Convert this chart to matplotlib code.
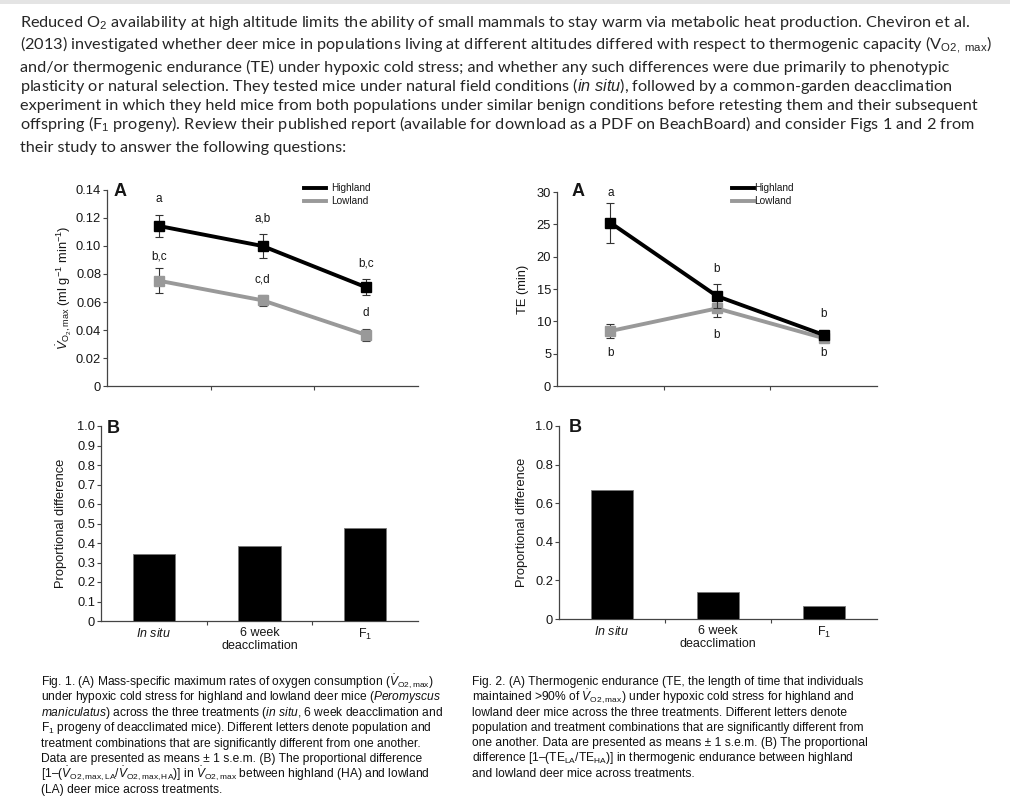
import matplotlib
matplotlib.use("Agg")
import matplotlib.pyplot as plt
from matplotlib.lines import Line2D
from matplotlib.patches import Rectangle
import numpy as np

plt.rcParams['font.family'] = ['Liberation Sans', 'DejaVu Sans']
plt.rcParams['mathtext.fontset'] = 'custom'
plt.rcParams['mathtext.rm'] = 'Liberation Sans'
plt.rcParams['mathtext.it'] = 'Liberation Sans:italic'
plt.rcParams['mathtext.bf'] = 'Liberation Sans:bold'

# ---------------- data ----------------
treatments = ["$\\mathit{In\\ situ}$", "6 week\ndeacclimation", "F$_1$"]

# Fig 1A: VO2max
vo2_high = [0.1143, 0.1000, 0.0705]
vo2_high_sem = [0.0078, 0.0086, 0.0056]
vo2_low = [0.0752, 0.0612, 0.0365]
vo2_low_sem = [0.0090, 0.0037, 0.0040]
vo2_high_letters = ["a", "a,b", "b,c"]
vo2_high_letter_y = [0.1335, 0.1197, 0.0877]
vo2_low_letters = ["b,c", "c,d", "d"]
vo2_low_letter_y = [0.0925, 0.0762, 0.0518]

# Fig 1B: proportional difference VO2max
vo2_prop = [0.344, 0.385, 0.475]

# Fig 2A: TE (min)
te_high = [25.25, 13.9, 7.9]
te_high_sem = [3.1, 1.9, 0.6]
te_low = [8.5, 12.0, 7.4]
te_low_sem = [1.07, 1.35, 0.6]
te_high_letters = ["a", "b", "b"]
te_high_letter_y = [29.9, 18.1, 11.1]
te_low_letters = ["b", "b", "b"]
te_low_letter_y = [5.15, 7.9, 5.15]

# Fig 2B: proportional difference TE
te_prop = [0.666, 0.138, 0.069]

vo2_yticks = [0, 0.02, 0.04, 0.06, 0.08, 0.10, 0.12, 0.14]
vo2_yticklabels = ["0", "0.02", "0.04", "0.06", "0.08", "0.10", "0.12", "0.14"]
prop1_yticks = [0, 0.1, 0.2, 0.3, 0.4, 0.5, 0.6, 0.7, 0.8, 0.9, 1.0]
prop1_yticklabels = ["0", "0.1", "0.2", "0.3", "0.4", "0.5", "0.6", "0.7", "0.8", "0.9", "1.0"]
te_yticks = [0, 5, 10, 15, 20, 25, 30]
te_yticklabels = ["0", "5", "10", "15", "20", "25", "30"]
prop2_yticks = [0, 0.2, 0.4, 0.6, 0.8, 1.0]
prop2_yticklabels = ["0", "0.2", "0.4", "0.6", "0.8", "1.0"]

series_labels = ["Highland", "Lowland"]

# ---------------- figure ----------------
W, H = 1024, 807
fig = plt.figure(figsize=(W / 100, H / 100), dpi=100)
fig.patch.set_facecolor('white')

def rect(x0, x1, ytop, ybot):
    return [x0 / W, 1 - ybot / H, (x1 - x0) / W, (ybot - ytop) / H]

HIGH_C = '#000000'
LOW_C = '#999999'
AX_C = '#444444'
TXT_C = '#161616'
TICK_FS = 9.3

def style_axes(ax, yticks, yticklabels, ylim):
    for s in ['top', 'right']:
        ax.spines[s].set_visible(False)
    for s in ['left', 'bottom']:
        ax.spines[s].set_color(AX_C)
        ax.spines[s].set_linewidth(0.9)
    ax.set_xlim(-0.5, 2.5)
    ax.set_ylim(*ylim)
    ax.set_yticks(yticks)
    ax.set_yticklabels(yticklabels, fontsize=TICK_FS, color=TXT_C)
    ax.set_xticks([0.5, 1.5])
    ax.set_xticklabels([])
    ax.tick_params(axis='both', which='major', direction='out', length=3,
                   width=0.8, color=AX_C, pad=1.2)
    ax.patch.set_alpha(0)

x = np.arange(len(treatments))

def line_panel(ax, high, high_sem, low, low_sem, low_first=False):
    def draw_low():
        ax.errorbar(x, low, yerr=low_sem, color=LOW_C, lw=2.8, marker='s',
                    ms=6.5, mfc=LOW_C, mec=LOW_C, ecolor='#333333',
                    elinewidth=0.8, capsize=3, capthick=0.8, zorder=3)
    def draw_high():
        ax.errorbar(x, high, yerr=high_sem, color=HIGH_C, lw=2.8, marker='s',
                    ms=6.5, mfc=HIGH_C, mec=HIGH_C, ecolor='#333333',
                    elinewidth=0.8, capsize=3, capthick=0.8, zorder=4)
    if low_first:
        draw_low(); draw_high()
    else:
        draw_high(); draw_low()

def add_legend(ax, anchor, textpad):
    handles = [Line2D([], [], color=HIGH_C, lw=2.8),
               Line2D([], [], color=LOW_C, lw=2.8)]
    leg = ax.legend(handles, series_labels, loc='upper left', bbox_to_anchor=anchor,
                    frameon=False, fontsize=7.2, handlelength=2.2,
                    handletextpad=textpad, labelspacing=0.3,
                    borderpad=0, borderaxespad=0)
    for t in leg.get_texts():
        t.set_color(TXT_C)

def letters(ax, labels, ys):
    for xi, lab, yy in zip(x, labels, ys):
        ax.text(xi, yy, lab, ha='center', va='center', fontsize=8.5, color=TXT_C)

def bar_panel(ax, vals):
    ax.bar(x, vals, width=0.4, color='black', edgecolor='#777777', linewidth=0.6, zorder=3)
    ax.set_xticks(x, minor=True)
    ax.set_xticklabels(treatments, minor=True, fontsize=9, color=TXT_C,
                       linespacing=1.2)
    ax.tick_params(axis='x', which='minor', length=0, pad=4)

# Fig 1A
ax1a = fig.add_axes(rect(107, 418, 190, 386))
style_axes(ax1a, vo2_yticks, vo2_yticklabels, (0, 0.14))
line_panel(ax1a, vo2_high, vo2_high_sem, vo2_low, vo2_low_sem)
letters(ax1a, vo2_high_letters, vo2_high_letter_y)
letters(ax1a, vo2_low_letters, vo2_low_letter_y)
add_legend(ax1a, (0.633, 1.035), 0.5)
ax1a.set_ylabel("$\\dot{V}_{\\mathrm{O_2,max}}$ (ml g$^{-1}$ min$^{-1}$)", fontsize=9.3, color=TXT_C)
ax1a.yaxis.set_label_coords(-0.107, 0.5)

# Fig 1B
ax1b = fig.add_axes(rect(101, 418, 426, 621))
style_axes(ax1b, prop1_yticks, prop1_yticklabels, (0, 1.0))
bar_panel(ax1b, vo2_prop)
ax1b.set_ylabel("Proportional difference", fontsize=9.3, color=TXT_C)
ax1b.yaxis.set_label_coords(-0.108, 0.5)

# Fig 2A
ax2a = fig.add_axes(rect(557, 877, 192, 386))
style_axes(ax2a, te_yticks, te_yticklabels, (0, 30))
line_panel(ax2a, te_high, te_high_sem, te_low, te_low_sem, low_first=True)
letters(ax2a, te_high_letters, te_high_letter_y)
letters(ax2a, te_low_letters, te_low_letter_y)
add_legend(ax2a, (0.547, 1.045), 0.05)
ax2a.set_ylabel("TE (min)", fontsize=9.3, color=TXT_C)
ax2a.yaxis.set_label_coords(-0.088, 0.5)

# Fig 2B
ax2b = fig.add_axes(rect(559, 877, 426, 619))
style_axes(ax2b, prop2_yticks, prop2_yticklabels, (0, 1.0))
bar_panel(ax2b, te_prop)
ax2b.set_ylabel("Proportional difference", fontsize=9.3, color=TXT_C)
ax2b.yaxis.set_label_coords(-0.097, 0.5)

# panel letters
for (px, py, lab) in [(120, 192, "A"), (113.5, 428.5, "B"), (578, 192, "A"), (575, 428, "B")]:
    fig.text(px / W, 1 - py / H, lab, ha='center', va='center', fontsize=13,
             fontweight='bold', color=TXT_C)

# grey band at top
fig.patches.append(Rectangle((0, 1 - 4 / H), 1010 / W, 4 / H, transform=fig.transFigure,
                             facecolor='#e4e4e4', edgecolor='none'))

renderer = fig.canvas.get_renderer()

def fit_size(text, family, target_px, base=10.0):
    t = fig.text(0, 0, text, fontsize=base, family=family)
    w = t.get_window_extent(renderer).width
    t.remove()
    return base * target_px / w

# top paragraph
para_lines = [
    "Reduced O$_2$ availability at high altitude limits the ability of small mammals to stay warm via metabolic heat production. Cheviron et al.",
    "(2013) investigated whether deer mice in populations living at different altitudes differed with respect to thermogenic capacity (V$_{\\mathrm{O2,\\ max}}$)",
    "and/or thermogenic endurance (TE) under hypoxic cold stress; and whether any such differences were due primarily to phenotypic",
    "plasticity or natural selection. They tested mice under natural field conditions ($\\mathit{in\\ situ}$), followed by a common-garden deacclimation",
    "experiment in which they held mice from both populations under similar benign conditions before retesting them and their subsequent",
    "offspring (F$_1$ progeny). Review their published report (available for download as a PDF on BeachBoard) and consider Figs 1 and 2 from",
    "their study to answer the following questions:",
]
para_baselines = [27, 50, 72, 91, 110, 129, 152]
para_font = ['Lato', 'DejaVu Sans']
pfs = fit_size(para_lines[4], para_font, 983 - 20)
for line, yb in zip(para_lines, para_baselines):
    fig.text(20 / W, 1 - yb / H, line, fontsize=pfs, family=para_font,
             va='baseline', ha='left', color='#262626')

# captions
cap1 = [
    "Fig. 1. (A) Mass-specific maximum rates of oxygen consumption ($\\dot{V}_{\\mathrm{O2,max}}$)",
    "under hypoxic cold stress for highland and lowland deer mice ($\\mathit{Peromyscus}$",
    "$\\mathit{maniculatus}$) across the three treatments ($\\mathit{in\\ situ}$, 6 week deacclimation and",
    "F$_1$ progeny of deacclimated mice). Different letters denote population and",
    "treatment combinations that are significantly different from one another.",
    "Data are presented as means \u00b1 1 s.e.m. (B) The proportional difference",
    "[1\u2013($\\dot{V}_{\\mathrm{O2,max,LA}}$/$\\dot{V}_{\\mathrm{O2,max,HA}}$)] in $\\dot{V}_{\\mathrm{O2,max}}$ between highland (HA) and lowland",
    "(LA) deer mice across treatments.",
]
cap2 = [
    "Fig. 2. (A) Thermogenic endurance (TE, the length of time that individuals",
    "maintained >90% of $\\dot{V}_{\\mathrm{O2,max}}$) under hypoxic cold stress for highland and",
    "lowland deer mice across the three treatments. Different letters denote",
    "population and treatment combinations that are significantly different from",
    "one another. Data are presented as means \u00b1 1 s.e.m. (B) The proportional",
    "difference [1\u2013(TE$_{\\mathrm{LA}}$/TE$_{\\mathrm{HA}}$)] in thermogenic endurance between highland",
    "and lowland deer mice across treatments.",
]
cap_font = ['Liberation Sans', 'DejaVu Sans']
c1fs = fit_size(cap1[4], cap_font, 420 - 41)
c2fs = fit_size(cap2[3], cap_font, 863 - 472)
for i, line in enumerate(cap1):
    fig.text(41 / W, 1 - (685 + 15.4 * i) / H, line, fontsize=c1fs, family=cap_font,
             va='baseline', ha='left', color='#111111')
for i, line in enumerate(cap2):
    fig.text(472 / W, 1 - (685 + 15.3 * i) / H, line, fontsize=c2fs, family=cap_font,
             va='baseline', ha='left', color='#111111')

fig.savefig("out.png", dpi=100, facecolor='white')
